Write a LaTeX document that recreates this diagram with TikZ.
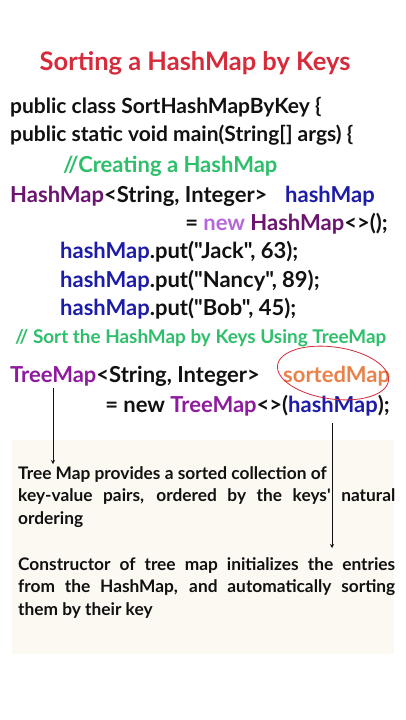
\documentclass[tikz,border=0pt]{standalone}
\usepackage{fontspec}
\setmainfont{Lato}[Ligatures=TeXOff]
\usetikzlibrary{arrows.meta}
\definecolor{titlered}{HTML}{D62B3A}
\definecolor{hmpurple}{HTML}{6A1470}
\definecolor{tmpurple}{HTML}{8E1A9E}
\definecolor{varblue}{HTML}{1C1CA8}
\definecolor{newpurple}{HTML}{B467DA}
\definecolor{cgreen}{HTML}{2EBF6B}
\definecolor{sorange}{HTML}{E8824A}
\definecolor{boxbg}{HTML}{FCF9F3}
\definecolor{ink}{HTML}{111111}
\newcommand\nohyph{\hyphenpenalty=10000 \exhyphenpenalty=10000 }
\tikzset{
  code/.style={anchor=base west, inner sep=0pt, font=\fontsize{22}{24}\selectfont\bfseries, text=ink},
  para/.style={anchor=north west, inner sep=0pt, text width=377pt, align=justify, font=\fontsize{17.3}{22.5}\selectfont\bfseries, text=ink},
  pointer/.style={draw=ink, line width=0.8pt, -{Stealth[length=4pt,width=4pt]}}
}
\begin{document}
\begin{tikzpicture}[x=1pt,y=-1pt]
\useasboundingbox (0,0) rectangle (405,720);
\fill[white] (0,0) rectangle (405,720);
\fill[boxbg] (12,440) rectangle (394,654);
\node[anchor=base, inner sep=0pt, font=\fontsize{25.5}{28}\selectfont\bfseries, text=titlered] (title) at (195,70) {Sorting a HashMap by Keys};
\node[code, font=\fontsize{21}{24}\selectfont\bfseries] (l1) at (10,113) {public class SortHashMapByKey \{};
\node[code, font=\fontsize{21}{24}\selectfont\bfseries] (l2) at (10,141) {public static void main(String[] args) \{};
\node[code, text=cgreen] (c1) at (63,172) {//Creating a HashMap};
\node[code] (l3) at (10,202) {\textcolor{hmpurple}{HashMap}<String, Integer>};
\node[code, text=varblue] (hm) at (285,202) {hashMap};
\node[code, anchor=base east] (l4) at (388,230) {= \textcolor{newpurple}{new} \textcolor{hmpurple}{HashMap}<>();};
\node[code] (p1) at (60,258) {\textcolor{varblue}{hashMap}.put("Jack", 63);};
\node[code] (p2) at (60,287) {\textcolor{varblue}{hashMap}.put("Nancy", 89);};
\node[code] (p3) at (60,315) {\textcolor{varblue}{hashMap}.put("Bob", 45);};
\node[code, text=cgreen, font=\fontsize{18.9}{20}\selectfont\bfseries] (c2) at (15,343) {// Sort the HashMap by Keys Using TreeMap};
\node[code] (t1) at (10,382) {\textcolor{tmpurple}{TreeMap}<String, Integer>};
\node[code, text=sorange] (sm) at (283,382) {sortedMap};
\node[code, anchor=base east] (t2) at (390,412) {= new \textcolor{tmpurple}{TreeMap}<>(\textcolor{varblue}{hashMap});};
\draw[titlered, line width=0.8pt, rotate around={-8:(333,373)}] (333,373) ellipse [x radius=56, y radius=26];
\node[para] (d1) at (18,466) {\nohyph Tree Map provides a sorted collection of\\ key-value pairs, ordered by the keys' natural\linebreak ordering};
\node[para] (d2) at (18,557) {\nohyph Constructor of tree map initializes the entries from the HashMap, and automatically sorting\linebreak them by their key};
\coordinate (a1s) at (53,388);
\coordinate (a1e) at (53,464);
\coordinate (a2s) at (332,423);
\coordinate (a2e) at (332,548);
\draw[pointer] (a1s) -- (a1e);
\draw[pointer] (a2s) -- (a2e);
\end{tikzpicture}
\end{document}
